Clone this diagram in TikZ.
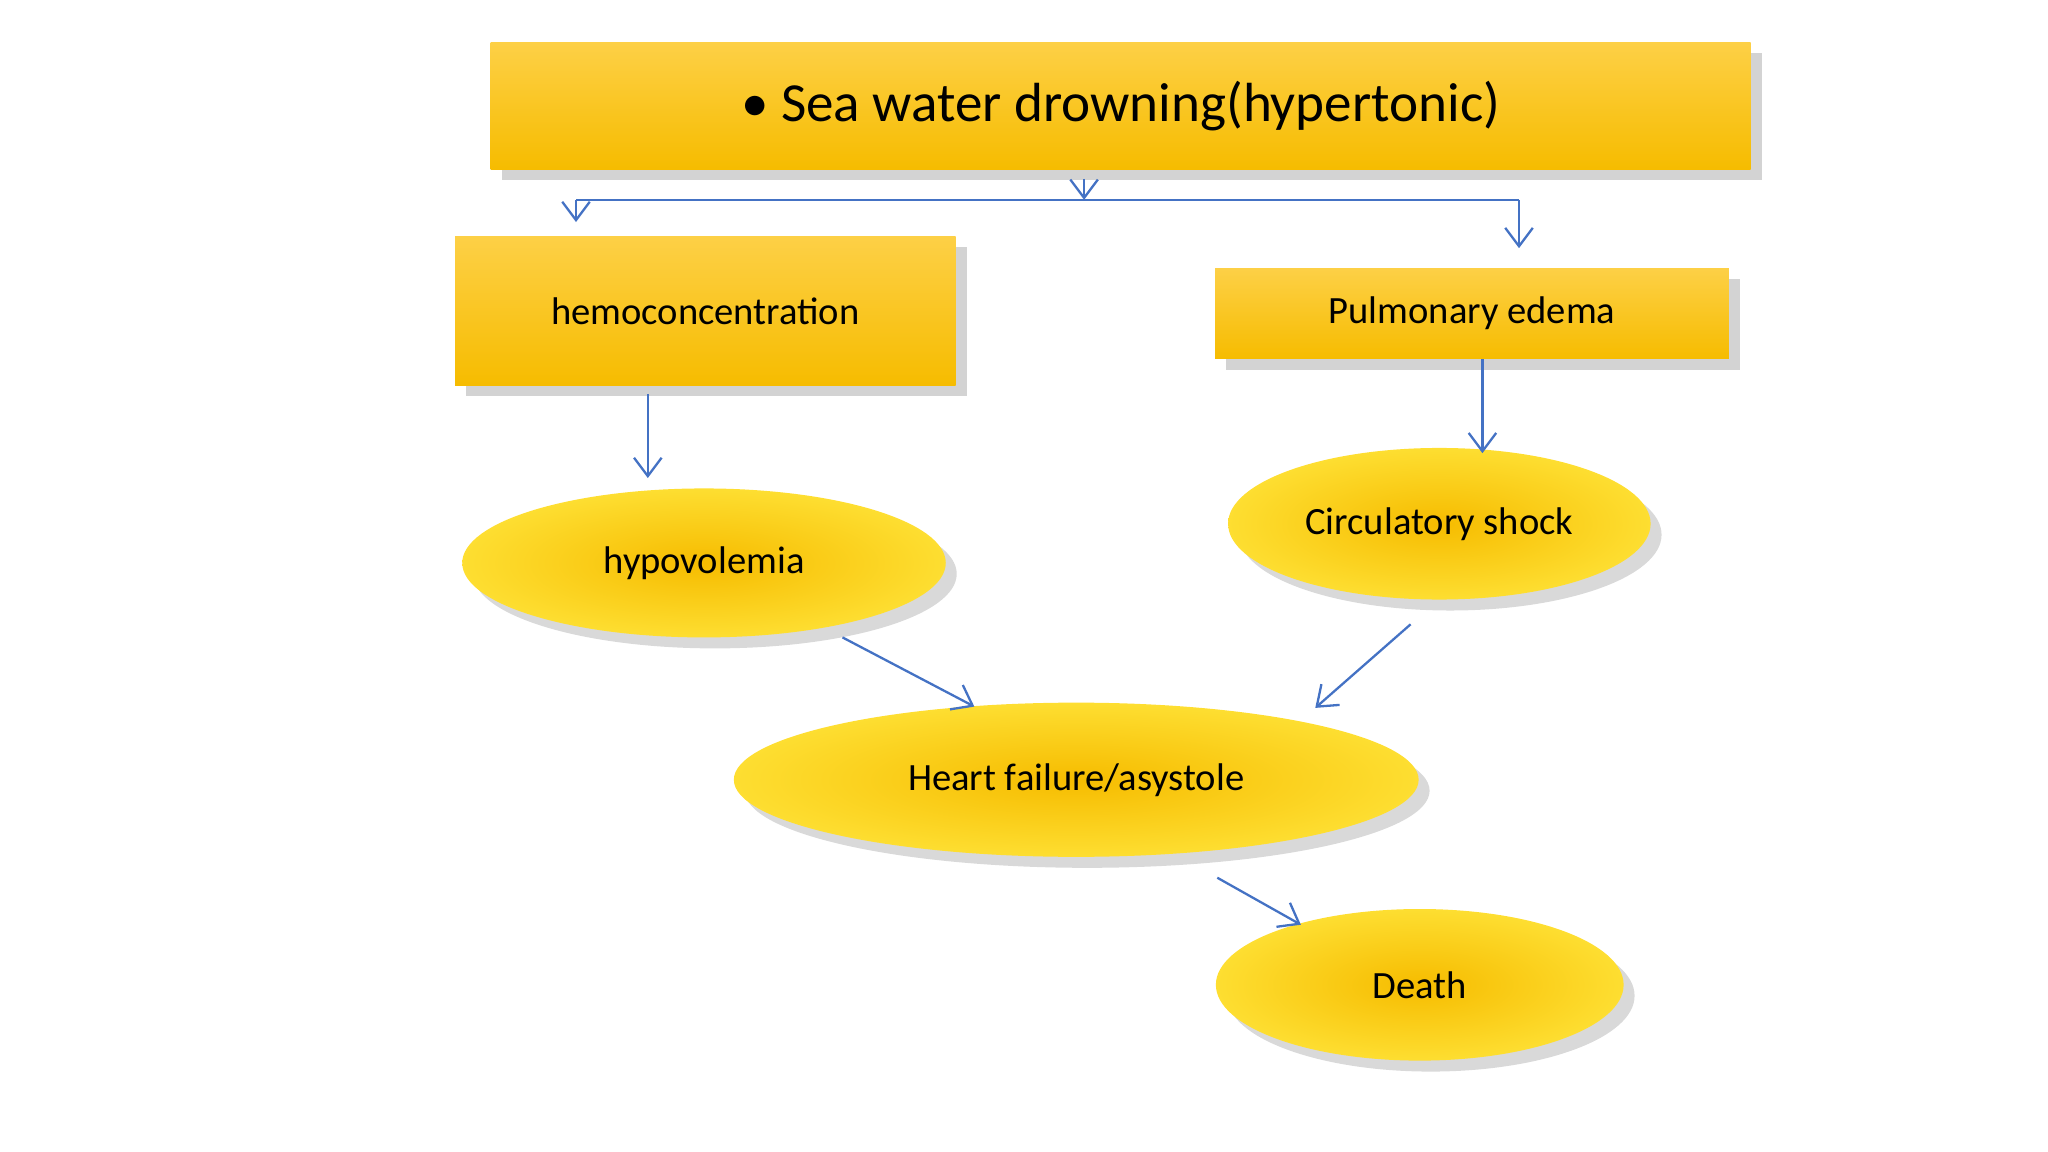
\documentclass[tikz,border=0pt]{standalone}
\usepackage{fontspec}
\setmainfont{Carlito}
\usetikzlibrary{shapes.geometric,shadows,arrows.meta}
\definecolor{goldtop}{RGB}{253,208,70}
\definecolor{goldbot}{RGB}{246,188,0}
\definecolor{linkblue}{RGB}{68,114,196}
\tikzset{
  box/.style={draw=none, top color=goldtop, bottom color=goldbot,
    drop shadow={opacity=0.35}, font=\fontsize{8.4}{10}\selectfont},
  blob/.style={ellipse, draw=none, inner color=goldbot, outer color=goldtop!70!yellow,
    drop shadow={opacity=0.3}, font=\fontsize{8.4}{10}\selectfont},
  link/.style={draw=linkblue, line width=0.5pt, -{Straight Barb[length=4pt,width=6pt]}}
}
\begin{document}
\begin{tikzpicture}[x=0.01cm, y=-0.01cm]
  \useasboundingbox (0,0) rectangle (1568,882);
  \node (title) [box, minimum width=9.64cm, minimum height=0.97cm,
    font=\fontsize{12}{14}\selectfont] at (858,81) {\textbullet\ Sea water drowning(hypertonic)};
  \node (hemo) [box, minimum width=3.83cm, minimum height=1.14cm] at (540,238) {hemoconcentration};
  \node (pulm) [box, minimum width=3.93cm, minimum height=0.69cm] at (1127,240) {Pulmonary edema};
  \node (hypo) [blob, minimum width=3.7cm, minimum height=1.14cm] at (539,431) {hypovolemia};
  \node (circ) [blob, minimum width=3.22cm, minimum height=1.16cm] at (1102,401) {Circulatory shock};
  \node (heart) [blob, minimum width=5.24cm, minimum height=1.18cm] at (824,597) {Heart failure/asystole};
  \node (death) [blob, minimum width=3.12cm, minimum height=1.16cm] at (1087,754) {Death};
  % branch from the title
  \coordinate (split) at (830,153);
  \coordinate (tl) at (441,153);
  \coordinate (tr) at (1163,153);
  \draw[linkblue, line width=0.5pt] (tl) -- (tr);
  \draw[link] (830,137) -- (split);
  \draw[link] (tl) -- (441,170);
  \draw[link] (tr) -- (1163,190);
  % chains
  \draw[link] (496,302) -- (496,366);
  \draw[link] (pulm.south -| 1135,0) -- (1135,347);
  \draw[link] (645,488) -- (746,541);
  \draw[link] (1080,478) -- (1007,542);
  \draw[link] (932,672) -- (996,708);
\end{tikzpicture}
\end{document}
